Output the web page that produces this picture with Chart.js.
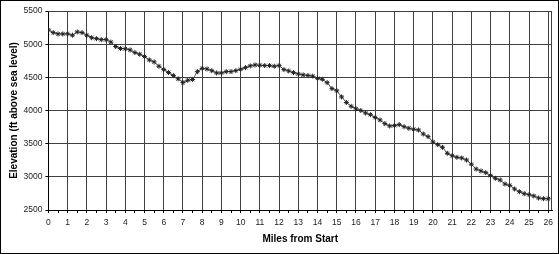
<!DOCTYPE html>
<html><head><meta charset="utf-8">
<script src="https://cdn.jsdelivr.net/npm/chart.js@4/dist/chart.umd.min.js"></script>
<style>
html,body{margin:0;padding:0;background:#fff;}
#wrap{width:557px;height:252px;border:1px solid #000;position:relative;background:#fff;}
canvas{display:block;}
</style></head><body>
<div id="wrap"><canvas id="c" width="557" height="252"></canvas></div>
<script>
const miles = [0,0.25,0.5,0.75,1,1.25,1.5,1.75,2,2.25,2.5,2.75,3,3.25,3.5,3.75,4,4.25,4.5,4.75,5,5.25,5.5,5.75,6,6.25,6.5,6.75,7,7.25,7.5,7.75,8,8.25,8.5,8.75,9,9.25,9.5,9.75,10,10.25,10.5,10.75,11,11.25,11.5,11.75,12,12.25,12.5,12.75,13,13.25,13.5,13.75,14,14.25,14.5,14.75,15,15.25,15.5,15.75,16,16.25,16.5,16.75,17,17.25,17.5,17.75,18,18.25,18.5,18.75,19,19.25,19.5,19.75,20,20.25,20.5,20.75,21,21.25,21.5,21.75,22,22.25,22.5,22.75,23,23.25,23.5,23.75,24,24.25,24.5,24.75,25,25.25,25.5,25.75,26];
const elevation = [5215,5174,5154,5154,5155,5135,5184,5174,5134,5098,5083,5068,5068,5031,4965,4935,4930,4913,4873,4848,4813,4762,4732,4667,4617,4572,4527,4477,4421,4456,4468,4586,4635,4626,4600,4566,4566,4586,4586,4601,4622,4646,4672,4687,4682,4677,4677,4667,4677,4617,4596,4571,4551,4536,4528,4518,4485,4470,4420,4330,4297,4205,4122,4063,4025,4000,3962,3937,3895,3857,3802,3767,3772,3787,3756,3732,3717,3706,3646,3606,3526,3485,3445,3355,3319,3294,3284,3254,3190,3118,3088,3063,3018,2978,2952,2892,2872,2817,2776,2746,2731,2711,2681,2670,2670];
const xTickValues = [0,0.5,1,1.5,2,2.5,3,3.5,4,4.5,5,5.5,6,6.5,7,7.5,8,8.5,9,9.5,10,10.5,11,11.5,12,12.5,13,13.5,14,14.5,15,15.5,16,16.5,17,17.5,18,18.5,19,19.5,20,20.5,21,21.5,22,22.5,23,23.5,24,24.5,25,25.5,26];
const yTickValues = [2500,3000,3500,4000,4500,5000,5500];
const xTitle = 'Miles from Start';
const yTitle = 'Elevation (ft above sea level)';

const FONT = 'Liberation Sans, Arial, sans-serif';
const points = miles.map((m, i) => ({x: m, y: elevation[i]}));

const plotBorder = {
  id: 'plotBorder',
  beforeDatasetsDraw(chart) {
    const {ctx, chartArea: a} = chart;
    ctx.save();
    ctx.strokeStyle = '#404040';
    ctx.lineWidth = 1;
    ctx.beginPath();
    const r = Math.round(a.right) - 0.5;
    const t = Math.round(a.top) + 0.5;
    ctx.moveTo(a.left, t); ctx.lineTo(r, t);
    ctx.moveTo(r, a.top); ctx.lineTo(r, a.bottom);
    ctx.stroke();
    ctx.restore();
  }
};

new Chart(document.getElementById('c'), {
  type: 'line',
  data: {
    datasets: [{
      data: points,
      borderColor: '#555',
      borderWidth: 1,
      pointStyle: 'star',
      pointRadius: 2.5,
      pointBorderColor: '#222',
      pointBackgroundColor: '#222',
      pointBorderWidth: 1,
      tension: 0,
      fill: false
    }]
  },
  options: {
    responsive: false,
    devicePixelRatio: 1,
    animation: false,
    layout: {padding: {top: 10, right: 4.5, left: 0, bottom: 0}},
    plugins: {legend: {display: false}, tooltip: {enabled: false}},
    scales: {
      x: {
        type: 'linear', min: 0, max: 26.2,
        afterBuildTicks: s => { s.ticks = xTickValues.map(v => ({value: v})); },
        afterFit: s => { s.height = 43; },
        border: {display: true, color: '#000', width: 1},
        grid: {
          color: c => (c.tick && Number.isInteger(c.tick.value)) ? '#404040' : 'rgba(0,0,0,0)',
          tickColor: '#000', tickLength: 3, drawTicks: true
        },
        ticks: {
          autoSkip: false, maxRotation: 0, minRotation: 0, padding: 5, color: '#222',
          font: {family: FONT, size: 8.5},
          callback: v => Number.isInteger(v) ? String(v) : ''
        },
        title: {display: true, text: xTitle, color: '#000',
          font: {family: FONT, size: 10, weight: 'bold'}, padding: {top: 0, bottom: 8}}
      },
      y: {
        type: 'linear', min: 2500, max: 5500,
        afterBuildTicks: s => { s.ticks = yTickValues.map(v => ({value: v})); },
        afterFit: s => { s.width = 47.4; },
        border: {display: true, color: '#000', width: 1},
        grid: {color: '#404040', tickColor: '#000', tickLength: 3},
        ticks: {padding: 3, color: '#222', font: {family: FONT, size: 8.5},
          callback: v => String(v)},
        title: {display: true, text: yTitle, color: '#000',
          font: {family: FONT, size: 10, weight: 'bold'}, padding: {top: 7, bottom: 0}}
      }
    }
  },
  plugins: [plotBorder]
});
</script>
</body></html>
